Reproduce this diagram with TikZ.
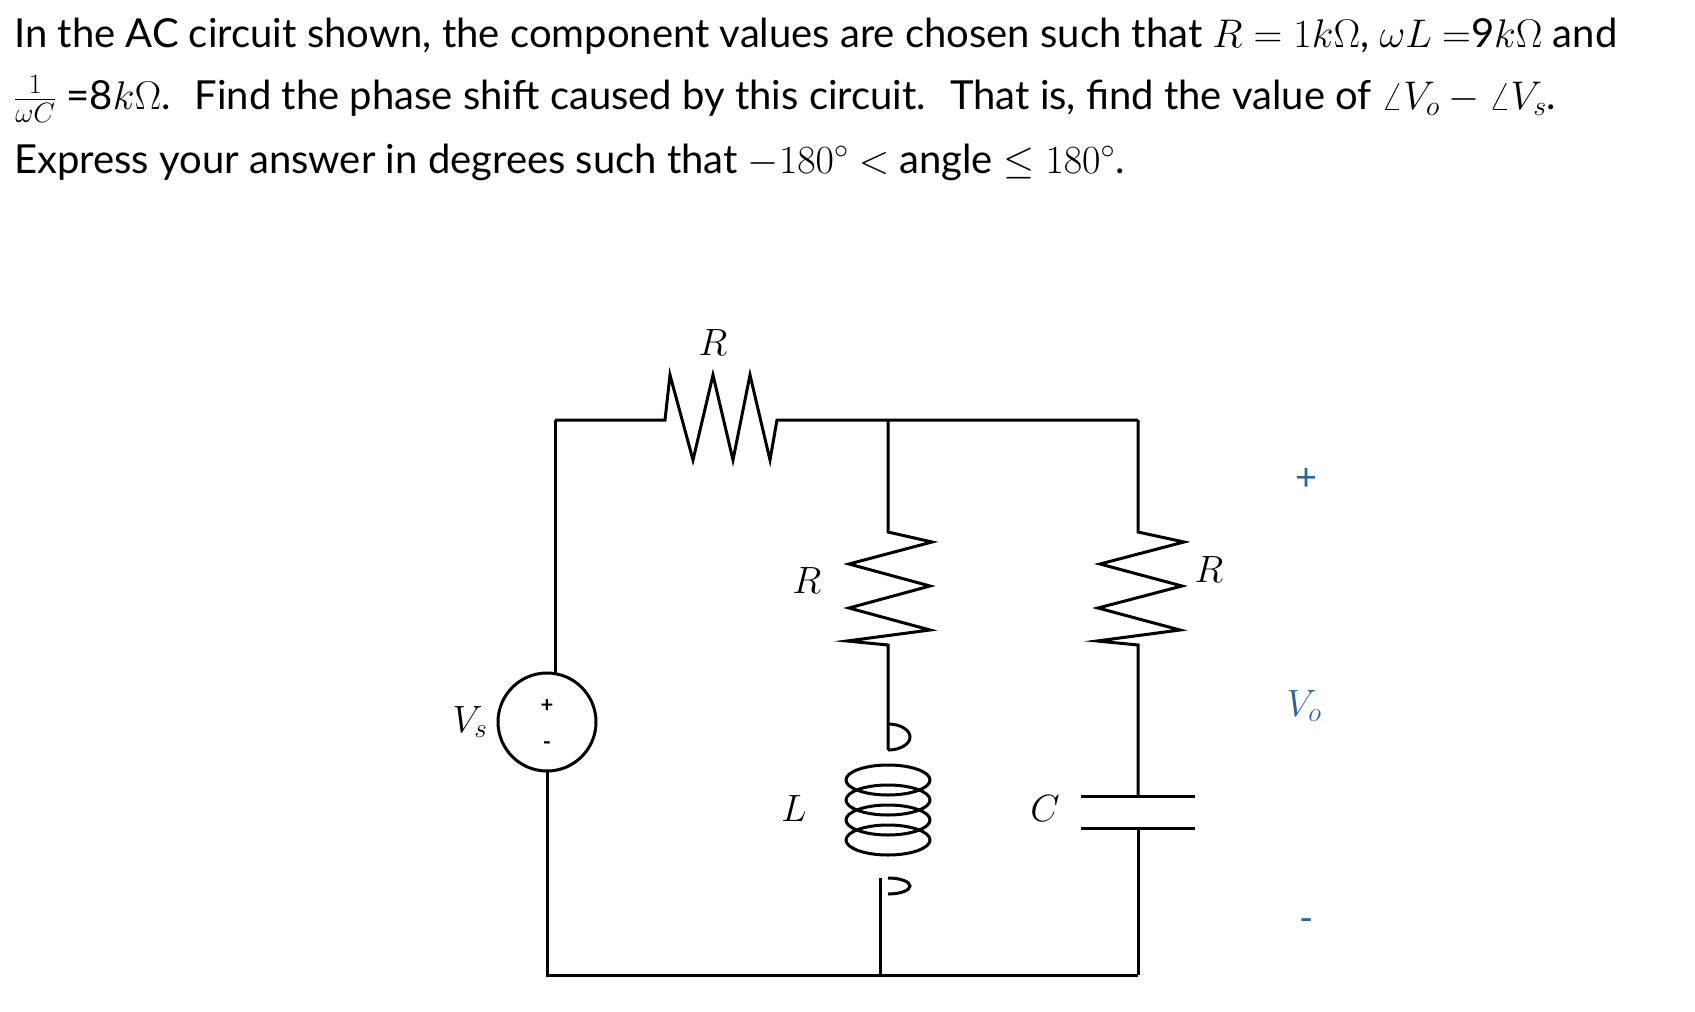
\documentclass[tikz,border=0pt]{standalone}
\usepackage{fix-cm}
\usepackage{amsmath}
\usepackage{fontspec}
\setmainfont{Lato}
\DeclareMathSizes{40}{40}{28}{20}
\DeclareMathSizes{38}{38}{27}{19}
\definecolor{vblue}{RGB}{40,100,160}
\begin{document}
\begin{tikzpicture}[x=1pt,y=-1pt,
  wire/.style={line width=3pt,line join=miter},
  lbl/.style={font=\fontsize{38}{38}\selectfont},
  txt/.style={anchor=base west,inner sep=0,font=\fontsize{40}{44}\selectfont}]
\useasboundingbox (0,0) rectangle (1695,1012);
% text
\node[txt] (t1) at (14,47) {In the AC circuit shown, the component values are chosen such that $R=1k\Omega$, $\omega L$ $=$9$k\Omega$ and};
\node[txt] (t2) at (14,109) {$\frac{1}{\omega C}$ =8$k\Omega$. \ Find the phase shift caused by this circuit. \ That is, find the value of $\angle V_o-\angle V_s$.};
\node[txt] (t3) at (14,173) {Express your answer in degrees such that $-180^\circ$ $<$ angle $\le180^\circ$.};
% coordinates
\coordinate (tl) at (555,420);
\coordinate (r1a) at (665,420);
\coordinate (r1b) at (777,420);
\coordinate (tm) at (888,420);
\coordinate (tr) at (1138,420);
\coordinate (bl) at (547,975);
\coordinate (bm) at (880,975);
\coordinate (br) at (1138,975);
% source
\draw[wire] (547,722) circle (49);
\node[font=\fontsize{22}{22}\selectfont\bfseries] (plus) at (547,706) {+};
\node[font=\fontsize{22}{22}\selectfont\bfseries] (minus) at (547,746) {-};
\draw[wire] (tl) -- (555,673);
\draw[wire] (547,771) -- (bl) -- (bm) -- (br);
% top resistor
\draw[wire] (tl) -- (r1a) -- (670,375) -- (693,460) -- (713,375) -- (733,460) -- (750,375) -- (770,460) -- (r1b) -- (tm) -- (tr);
% middle branch
\draw[wire] (tm) -- (888,532) -- (932,542) -- (849,564) -- (930,586) -- (849,608) -- (930,630) -- (847,641) -- (888,645) -- (888,750);
\draw[wire] (888,750) arc (90:-90:22 and 13);
\foreach \i in {0,1,2,3}{
  \draw[wire] (888,{780+\i*20}) ellipse (42 and 15);}
\draw[wire] (888,878) arc (-90:90:22 and 8);
\draw[wire] (880,878) -- (bm);
% right branch
\draw[wire] (tr) -- (1138,532) -- (1184,542) -- (1100,564) -- (1182,586) -- (1098,608) -- (1180,630) -- (1097,641) -- (1138,645) -- (1138,796);
\draw[wire] (1081,796) -- (1195,796);
\draw[wire] (1081,828) -- (1195,828);
\draw[wire] (1138,828) -- (br);
% labels
\node[lbl] (lR1) at (713,343) {$R$};
\node[lbl] (lR2) at (807,581) {$R$};
\node[lbl] (lR3) at (1209,570) {$R$};
\node[lbl] (lL) at (794,809) {$L$};
\node[lbl] (lC) at (1045,809) {$C$};
\node[lbl] (lVs) at (470,722) {$V_s$};
\node[lbl,text=vblue] (vp) at (1307,479) {+};
\node[lbl,text=vblue] (vo) at (1304,706) {$V_o$};
\node[lbl,text=vblue] (vm) at (1307,925) {-};
\end{tikzpicture}
\end{document}
